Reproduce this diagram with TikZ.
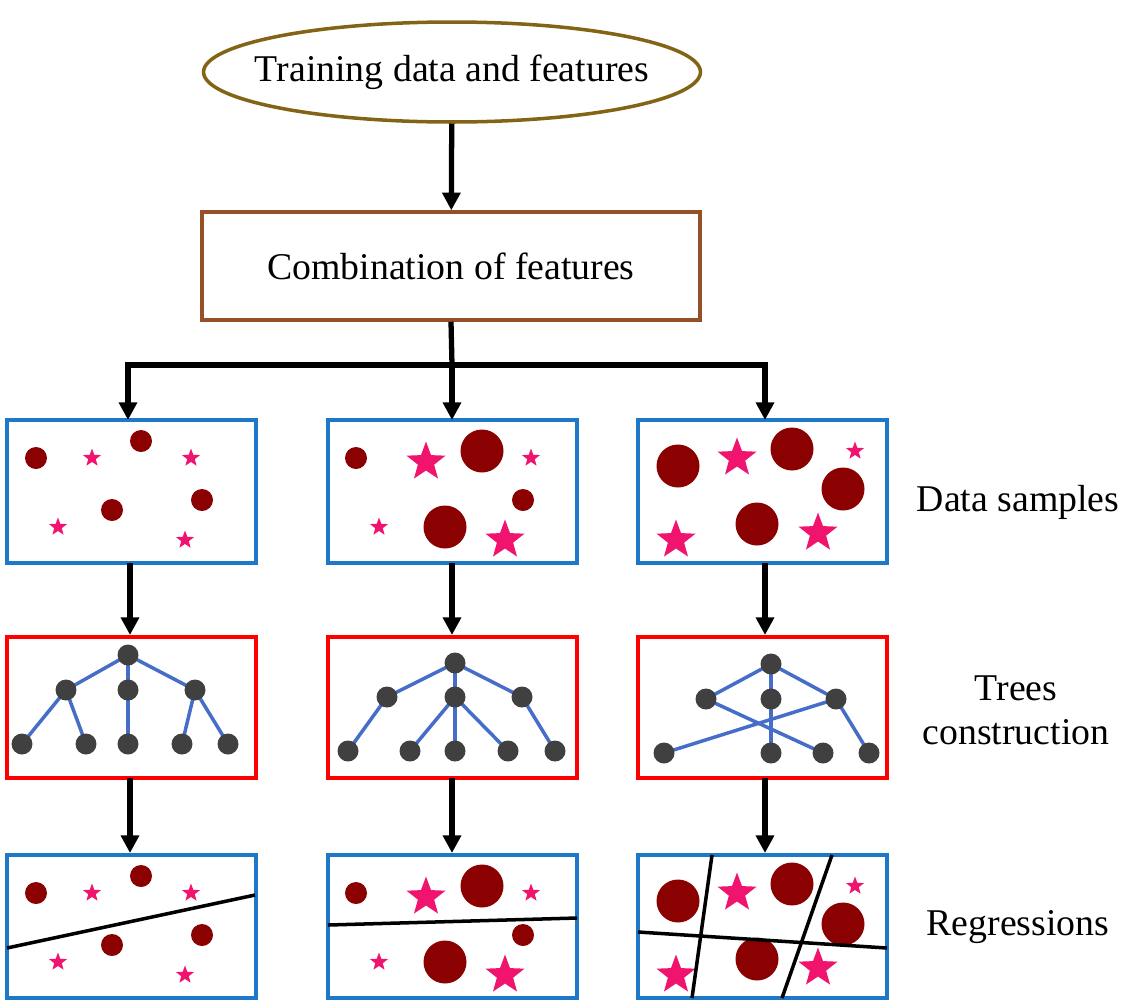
\documentclass[tikz,border=0pt]{standalone}
\usepackage{fontspec}
\setmainfont{Liberation Serif}
\usetikzlibrary{arrows.meta,shapes.geometric}
\definecolor{dotred}{RGB}{139,0,0}
\definecolor{starpink}{RGB}{240,20,110}
\definecolor{boxblue}{RGB}{30,120,200}
\definecolor{treegray}{RGB}{64,64,64}
\definecolor{edgeblue}{RGB}{70,110,200}
\definecolor{olivebr}{RGB}{130,100,20}
\definecolor{boxbrown}{RGB}{150,80,40}
\tikzset{
  flow/.style={-{Triangle[length=10pt,width=10pt]},line width=3pt},
  sample/.style={draw=boxblue,line width=2pt},
  treebox/.style={draw=red,line width=2pt},
  dotS/.style={circle,fill=dotred,inner sep=0pt,minimum size=0.44cm},
  dotL/.style={circle,fill=dotred,inner sep=0pt,minimum size=0.86cm},
  starS/.style={star,star points=5,star point ratio=2.4,fill=starpink,inner sep=0pt,minimum size=0.38cm},
  starL/.style={star,star points=5,star point ratio=2.4,fill=starpink,inner sep=0pt,minimum size=0.82cm},
  tn/.style={circle,fill=treegray,inner sep=0pt,minimum size=0.42cm},
  te/.style={draw=edgeblue,line width=2pt},
  lbl/.style={font=\fontsize{21.5}{25}\selectfont,align=center}
}
\begin{document}
\begin{tikzpicture}[x=0.02cm,y=-0.02cm]
\useasboundingbox (0,0) rectangle (1125,1005);
% top of the flow
\node[ellipse,draw=olivebr,line width=2pt,minimum width=9.94cm,minimum height=2cm,inner sep=0pt,
  label={[lbl]center:Training data and features}] (train) at (452,72) {};
\node[draw=boxbrown,line width=2pt,minimum width=9.96cm,minimum height=2.16cm,lbl] (comb) at (451,266) {Combination of features};
\draw[flow] (train) -- (comb);
\coordinate (split) at (452,365);
% boxes
\foreach \c/\x in {1/7,2/328,3/638}{
  \draw[sample] (\x,420) rectangle ++(249,143);
  \draw[treebox] (\x,637) rectangle ++(249,141);
  \draw[sample] (\x,855) rectangle ++(249,143);
}
\draw[line width=3pt] (comb.south) -- (split);
\draw[line width=3pt,line cap=rect] (128,365) -- (765,365);
\draw[flow] (128,365) -- (128,420);
\draw[flow] (split) -- (452,420);
\draw[flow] (765,365) -- (765,420);
\draw[flow] (130,563) -- (130,635);
\draw[flow] (452,563) -- (452,635);
\draw[flow] (765,563) -- (765,635);
\draw[flow] (130,778) -- (130,853);
\draw[flow] (452,778) -- (452,853);
\draw[flow] (765,778) -- (765,853);
% samples and regressions
\foreach \dy in {0,435}{
  \foreach \x/\y in {36/458,141/441,112/510,202/500,356/458,523/500}
    \node[dotS] at (\x,\y+\dy) {};
  \foreach \x/\y in {482/451,445/527,678/466,792/449,843/489,757/524}
    \node[dotL] at (\x,\y+\dy) {};
  \foreach \x/\y in {92/458,191/458,58/527,185/540,531/458,379/527,855/451}
    \node[starS] at (\x,\y+\dy) {};
  \foreach \x/\y in {426/462,505/540,737/458,676/540,818/533}
    \node[starL] at (\x,\y+\dy) {};
}
\draw[line width=2pt] (7,948) -- (255,895);
\draw[line width=2pt] (328,925) -- (577,918);
\draw[line width=2pt] (638,932) -- (887,948);
\draw[line width=2pt] (712,855) -- (692,998);
\draw[line width=2pt] (832,855) -- (782,998);
% trees
\foreach \n/\x/\y in {a0/128/655,a1/66/690,a2/128/690,a3/195/690,a4/22/744,a5/86/744,a6/128/744,a7/182/744,a8/228/744,
  b0/455/663,b1/387/697,b2/455/697,b3/522/697,b4/348/751,b5/410/751,b6/455/751,b7/508/751,b8/555/751,
  c0/771/664,c1/706/699,c2/771/699,c3/836/699,c4/664/753,c5/771/753,c6/823/753,c7/869/753}
  \coordinate (\n) at (\x,\y);
\foreach \u/\v in {a0/a1,a0/a2,a0/a3,a1/a4,a1/a5,a2/a6,a3/a7,a3/a8,
  b0/b1,b0/b2,b0/b3,b1/b4,b2/b5,b2/b6,b2/b7,b3/b8,
  c0/c1,c0/c2,c0/c3,c1/c6,c3/c4,c2/c5,c3/c7}
  \draw[te] (\u) -- (\v);
\foreach \n in {a0,a1,a2,a3,a4,a5,a6,a7,a8,b0,b1,b2,b3,b4,b5,b6,b7,b8,c0,c1,c2,c3,c4,c5,c6,c7}
  \node[tn] at (\n) {};
% row labels
\node[lbl] (lds) at (1018,502) {Data samples};
\node[lbl] (ltc) at (1016,710) {Trees\\construction};
\node[lbl] (lrg) at (1018,927) {Regressions};
\end{tikzpicture}
\end{document}
